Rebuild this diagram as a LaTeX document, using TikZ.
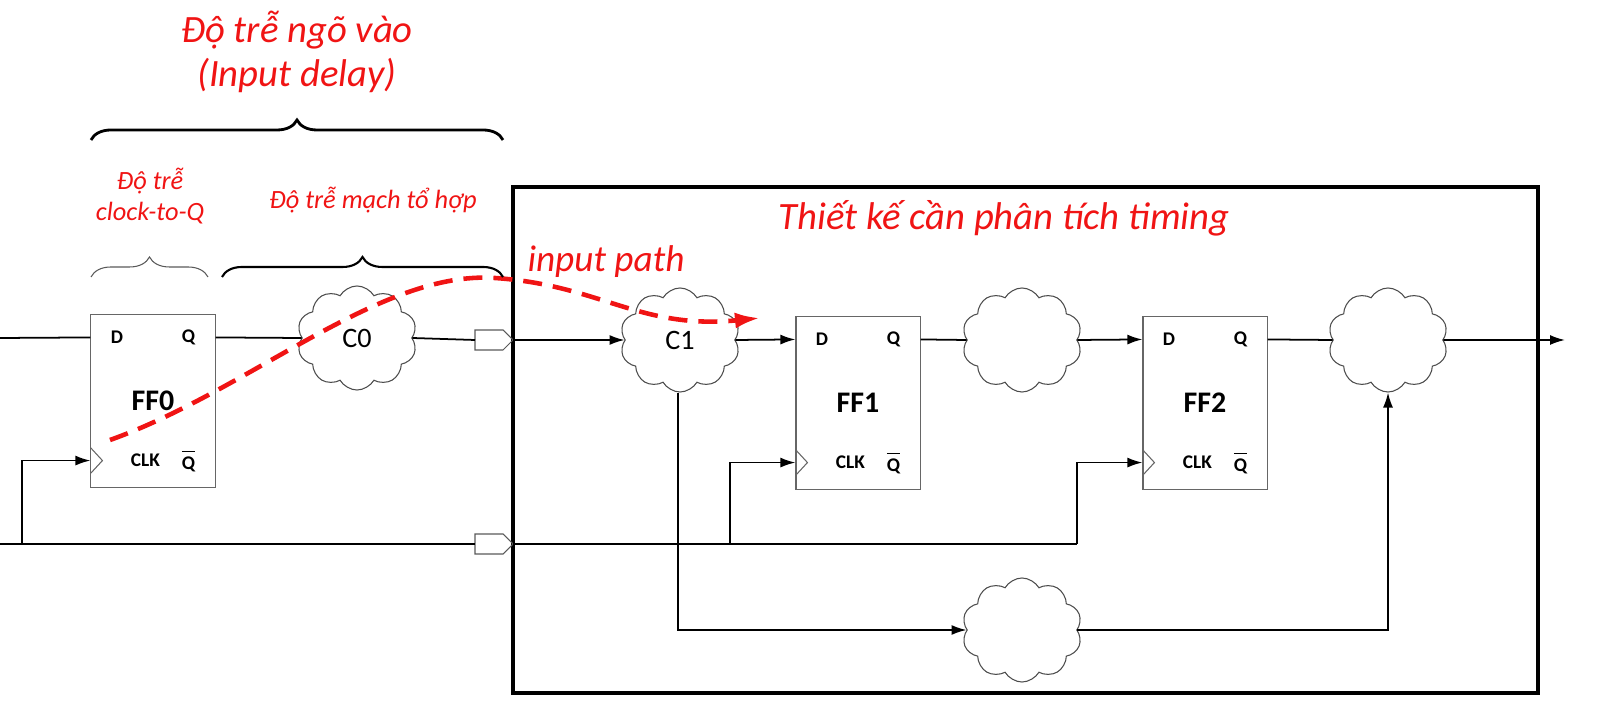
\documentclass[tikz,border=0pt]{standalone}
\usepackage{fontspec}
\setmainfont{Carlito}
\usetikzlibrary{shapes.symbols,decorations.pathreplacing,arrows.meta}
\definecolor{redtxt}{RGB}{240,20,20}
\tikzset{
	ff/.style={draw=gray!80!black, line width=0.3pt, minimum width=1.24cm, minimum height=1.72cm, inner sep=0pt},
	cl/.style={cloud, cloud puffs=10, cloud puff arc=120, draw=gray!60!black, line width=0.3pt, minimum width=1.2cm, minimum height=1.04cm, inner sep=0pt, aspect=1.2},
	pin/.style={font=\bfseries\fontsize{5.5}{6}\selectfont},
	rtext/.style={text=redtxt, font=\itshape},
	wire/.style={line width=0.5pt},
	tip/.style={-{Latex[length=0.15cm,width=0.1cm]}},
}
\newcommand{\flipflop}[3]{%
	\node[ff] (#1) at (#2) {};
	\node[font=\bfseries\fontsize{8.5}{9}\selectfont] at (#1.center) {#3};
	\node[pin, anchor=west] at ([xshift=0.08cm,yshift=-0.23cm]#1.north west) {D};
	\node[pin, anchor=east] at ([xshift=-0.08cm,yshift=-0.23cm]#1.north east) {Q};
	\node[pin, anchor=west] at ([xshift=0.28cm,yshift=0.27cm]#1.south west) {CLK};
	\node[pin, anchor=east] at ([xshift=-0.08cm,yshift=0.27cm]#1.south east) {$\overline{\textbf{Q}}$};
	\draw[gray!80!black, line width=0.3pt] ([yshift=0.4cm]#1.south west) -- ([xshift=0.12cm,yshift=0.27cm]#1.south west) -- ([yshift=0.14cm]#1.south west);
	\coordinate (#1d) at ([yshift=-0.23cm]#1.north west);
	\coordinate (#1q) at ([yshift=-0.23cm]#1.north east);
	\coordinate (#1c) at ([yshift=0.27cm]#1.south west);
}
\newcommand{\port}[2]{%
	\draw[gray!70!black, line width=0.3pt] (475,#2-10) -- (503,#2-10) -- (513,#2) -- (503,#2+10) -- (475,#2+10) -- cycle;
	\coordinate (#1in) at (475,#2);
	\coordinate (#1out) at (513,#2);
}
\begin{document}
\begin{tikzpicture}[x=0.01cm, y=-0.01cm]
	\useasboundingbox (0,0) rectangle (1600,710);
	% design box
	\draw[line width=1.3pt] (513,187) rectangle (1538,693);
	% flip-flops
	\flipflop{ff0}{153,401}{FF0}
	\flipflop{ff1}{858,403}{FF1}
	\flipflop{ff2}{1205,403}{FF2}
	% logic clouds
	\node[cl] (c0) at (357,338) {\fontsize{8}{9}\selectfont C0};
	\node[cl] (c1) at (680,340) {\fontsize{8}{9}\selectfont C1};
	\node[cl] (c2) at (1022,340) {};
	\node[cl] (c3) at (1388,340) {};
	\node[cl] (c4) at (1022,630) {};
	% ports
	\port{pa}{340}
	\port{pb}{544}
	\coordinate (din) at (0,338);
	\coordinate (ckin) at (0,544);
	\coordinate (qout) at (1565,340);
	% data path
	\draw[wire] (din) -- (ff0d);
	\draw[wire] (ff0q) -- (c0.west);
	\draw[wire] (c0.east) -- (pain);
	\draw[wire,tip] (paout) -- (c1.west);
	\draw[wire,tip] (c1.east) -- (ff1d);
	\draw[wire] (ff1q) -- (c2.west);
	\draw[wire,tip] (c2.east) -- (ff2d);
	\draw[wire] (ff2q) -- (c3.west);
	\draw[wire,tip] (c3.east) -- (qout);
	% clock
	\draw[wire] (ckin) -- (pbin);
	\draw[wire] (pbout) -- (1077,544);
	\draw[wire,tip] (22,544) |- (ff0c);
	\draw[wire,tip] (730,544) |- (ff1c);
	\draw[wire,tip] (1077,544) |- (ff2c);
	% bypass path
	\draw[wire,tip] ([xshift=-0.02cm]c1.south) |- (c4.west);
	\draw[wire,tip] (c4.east) -| (c3.south);
	% input path
	\draw[redtxt, line width=1.3pt, dash pattern=on 0.19cm off 0.11cm, -{Latex[length=0.25cm,width=0.16cm]}] (110,440) .. controls (250,390) and (380,270) .. (495,278) .. controls (600,285) and (640,330) .. (760,318);
	\node[rtext, font=\itshape\fontsize{10.6}{12}\selectfont] at (606,262) {input path};
	% braces
	\draw[decorate, decoration={brace, amplitude=0.2cm}, line width=0.8pt] (91,140) -- (503,140);
	\draw[decorate, decoration={brace, amplitude=0.2cm}, gray!70!black, line width=0.3pt] (91,277) -- (208,277);
	\draw[decorate, decoration={brace, amplitude=0.2cm}, line width=0.6pt] (222,277) -- (503,277);
	% labels
	\node[rtext, font=\itshape\fontsize{11}{12.5}\selectfont, align=center] at (297,52) {Độ trễ ngõ vào\\(Input delay)};
	\node[rtext, font=\itshape\fontsize{7.5}{9}\selectfont, align=center] at (150,196) {Độ trễ\\clock-to-Q};
	\node[rtext, font=\itshape\fontsize{7.5}{9}\selectfont] at (373,200) {Độ trễ mạch tổ hợp};
	\node[rtext, font=\itshape\fontsize{11}{12.5}\selectfont] at (1004,218) {Thiết kế cần phân tích timing};
\end{tikzpicture}
\end{document}
